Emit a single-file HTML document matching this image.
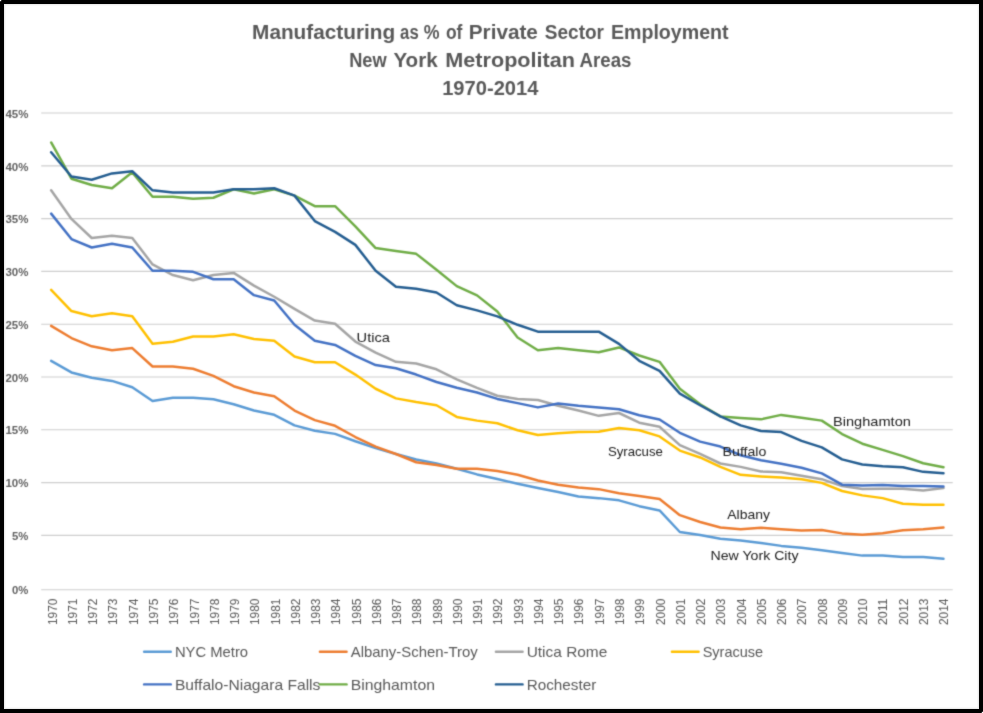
<!DOCTYPE html>
<html lang="en"><head><meta charset="utf-8"><title>Manufacturing as % of Private Sector Employment</title>
<style>
html,body{margin:0;padding:0;background:#000;}
body{width:983px;height:713px;overflow:hidden;}
svg{display:block;font-family:"Liberation Sans",sans-serif;}
.t{font-weight:bold;fill:#595959;font-size:20px;}
.yl{font-weight:bold;fill:#626262;font-size:11px;}
.xl{fill:#595959;font-size:12.4px;}
.lg{fill:#595959;font-size:14.4px;}
.dl{fill:#222;font-size:13.5px;}
.g{stroke:#CECECE;stroke-width:1.1;}
.s{fill:none;stroke-width:2.5;stroke-linejoin:round;stroke-linecap:round;}
</style></head><body>
<svg width="983" height="713" viewBox="0 0 983 713">
<defs><filter id="soft" x="0" y="0" width="983" height="713" filterUnits="userSpaceOnUse" color-interpolation-filters="sRGB"><feConvolveMatrix order="3" kernelMatrix="0.025 0.1 0.025 0.1 0.5 0.1 0.025 0.1 0.025" divisor="1" edgeMode="duplicate" preserveAlpha="true"/></filter></defs>
<g filter="url(#soft)">
<rect x="0" y="0" width="983" height="713" fill="#fff"/>
<text class="t" y="39.4"><tspan x="252.1" textLength="143.0" lengthAdjust="spacingAndGlyphs">Manufacturing</tspan> <tspan x="400.1" textLength="18.6" lengthAdjust="spacingAndGlyphs">as</tspan> <tspan x="423.8" textLength="15.8" lengthAdjust="spacingAndGlyphs">%</tspan> <tspan x="445.9" textLength="16.5" lengthAdjust="spacingAndGlyphs">of</tspan> <tspan x="468.8" textLength="69.1" lengthAdjust="spacingAndGlyphs">Private</tspan> <tspan x="544.8" textLength="59.2" lengthAdjust="spacingAndGlyphs">Sector</tspan> <tspan x="610.9" textLength="117.7" lengthAdjust="spacingAndGlyphs">Employment</tspan></text>
<text class="t" y="67.3"><tspan x="349.2" textLength="37.5" lengthAdjust="spacingAndGlyphs">New</tspan> <tspan x="393.4" textLength="44.3" lengthAdjust="spacingAndGlyphs">York</tspan> <tspan x="445.3" textLength="129.7" lengthAdjust="spacingAndGlyphs">Metropolitan</tspan> <tspan x="579.6" textLength="51.8" lengthAdjust="spacingAndGlyphs">Areas</tspan></text>
<text class="t" y="94.5"><tspan x="442.2" textLength="96.2" lengthAdjust="spacingAndGlyphs">1970-2014</tspan></text>
<line class="g" x1="41.2" x2="952.7" y1="589.70" y2="589.70"/>
<text class="yl" x="12.0" y="594.40" textLength="16.4" lengthAdjust="spacingAndGlyphs">0%</text>
<line class="g" x1="41.2" x2="952.7" y1="535.37" y2="535.37"/>
<text class="yl" x="12.0" y="540.07" textLength="16.4" lengthAdjust="spacingAndGlyphs">5%</text>
<line class="g" x1="41.2" x2="952.7" y1="482.58" y2="482.58"/>
<text class="yl" x="5.4" y="487.28" textLength="23.0" lengthAdjust="spacingAndGlyphs">10%</text>
<line class="g" x1="41.2" x2="952.7" y1="429.79" y2="429.79"/>
<text class="yl" x="5.4" y="434.49" textLength="23.0" lengthAdjust="spacingAndGlyphs">15%</text>
<line class="g" x1="41.2" x2="952.7" y1="377.00" y2="377.00"/>
<text class="yl" x="5.4" y="381.70" textLength="23.0" lengthAdjust="spacingAndGlyphs">20%</text>
<line class="g" x1="41.2" x2="952.7" y1="324.21" y2="324.21"/>
<text class="yl" x="5.4" y="328.91" textLength="23.0" lengthAdjust="spacingAndGlyphs">25%</text>
<line class="g" x1="41.2" x2="952.7" y1="271.42" y2="271.42"/>
<text class="yl" x="5.4" y="276.12" textLength="23.0" lengthAdjust="spacingAndGlyphs">30%</text>
<line class="g" x1="41.2" x2="952.7" y1="218.63" y2="218.63"/>
<text class="yl" x="5.4" y="223.33" textLength="23.0" lengthAdjust="spacingAndGlyphs">35%</text>
<line class="g" x1="41.2" x2="952.7" y1="165.84" y2="165.84"/>
<text class="yl" x="5.4" y="170.54" textLength="23.0" lengthAdjust="spacingAndGlyphs">40%</text>
<line class="g" x1="41.2" x2="952.7" y1="113.05" y2="113.05"/>
<text class="yl" x="5.4" y="117.75" textLength="23.0" lengthAdjust="spacingAndGlyphs">45%</text>
<text class="xl" transform="translate(56.70,625.1) rotate(-90)" textLength="26.6" lengthAdjust="spacingAndGlyphs">1970</text>
<text class="xl" transform="translate(76.96,625.1) rotate(-90)" textLength="26.6" lengthAdjust="spacingAndGlyphs">1971</text>
<text class="xl" transform="translate(97.22,625.1) rotate(-90)" textLength="26.6" lengthAdjust="spacingAndGlyphs">1972</text>
<text class="xl" transform="translate(117.48,625.1) rotate(-90)" textLength="26.6" lengthAdjust="spacingAndGlyphs">1973</text>
<text class="xl" transform="translate(137.74,625.1) rotate(-90)" textLength="26.6" lengthAdjust="spacingAndGlyphs">1974</text>
<text class="xl" transform="translate(158.00,625.1) rotate(-90)" textLength="26.6" lengthAdjust="spacingAndGlyphs">1975</text>
<text class="xl" transform="translate(178.26,625.1) rotate(-90)" textLength="26.6" lengthAdjust="spacingAndGlyphs">1976</text>
<text class="xl" transform="translate(198.52,625.1) rotate(-90)" textLength="26.6" lengthAdjust="spacingAndGlyphs">1977</text>
<text class="xl" transform="translate(218.78,625.1) rotate(-90)" textLength="26.6" lengthAdjust="spacingAndGlyphs">1978</text>
<text class="xl" transform="translate(239.04,625.1) rotate(-90)" textLength="26.6" lengthAdjust="spacingAndGlyphs">1979</text>
<text class="xl" transform="translate(259.30,625.1) rotate(-90)" textLength="26.6" lengthAdjust="spacingAndGlyphs">1980</text>
<text class="xl" transform="translate(279.56,625.1) rotate(-90)" textLength="26.6" lengthAdjust="spacingAndGlyphs">1981</text>
<text class="xl" transform="translate(299.82,625.1) rotate(-90)" textLength="26.6" lengthAdjust="spacingAndGlyphs">1982</text>
<text class="xl" transform="translate(320.08,625.1) rotate(-90)" textLength="26.6" lengthAdjust="spacingAndGlyphs">1983</text>
<text class="xl" transform="translate(340.34,625.1) rotate(-90)" textLength="26.6" lengthAdjust="spacingAndGlyphs">1984</text>
<text class="xl" transform="translate(360.60,625.1) rotate(-90)" textLength="26.6" lengthAdjust="spacingAndGlyphs">1985</text>
<text class="xl" transform="translate(380.86,625.1) rotate(-90)" textLength="26.6" lengthAdjust="spacingAndGlyphs">1986</text>
<text class="xl" transform="translate(401.12,625.1) rotate(-90)" textLength="26.6" lengthAdjust="spacingAndGlyphs">1987</text>
<text class="xl" transform="translate(421.38,625.1) rotate(-90)" textLength="26.6" lengthAdjust="spacingAndGlyphs">1988</text>
<text class="xl" transform="translate(441.64,625.1) rotate(-90)" textLength="26.6" lengthAdjust="spacingAndGlyphs">1989</text>
<text class="xl" transform="translate(461.90,625.1) rotate(-90)" textLength="26.6" lengthAdjust="spacingAndGlyphs">1990</text>
<text class="xl" transform="translate(482.16,625.1) rotate(-90)" textLength="26.6" lengthAdjust="spacingAndGlyphs">1991</text>
<text class="xl" transform="translate(502.42,625.1) rotate(-90)" textLength="26.6" lengthAdjust="spacingAndGlyphs">1992</text>
<text class="xl" transform="translate(522.68,625.1) rotate(-90)" textLength="26.6" lengthAdjust="spacingAndGlyphs">1993</text>
<text class="xl" transform="translate(542.94,625.1) rotate(-90)" textLength="26.6" lengthAdjust="spacingAndGlyphs">1994</text>
<text class="xl" transform="translate(563.20,625.1) rotate(-90)" textLength="26.6" lengthAdjust="spacingAndGlyphs">1995</text>
<text class="xl" transform="translate(583.46,625.1) rotate(-90)" textLength="26.6" lengthAdjust="spacingAndGlyphs">1996</text>
<text class="xl" transform="translate(603.72,625.1) rotate(-90)" textLength="26.6" lengthAdjust="spacingAndGlyphs">1997</text>
<text class="xl" transform="translate(623.98,625.1) rotate(-90)" textLength="26.6" lengthAdjust="spacingAndGlyphs">1998</text>
<text class="xl" transform="translate(644.24,625.1) rotate(-90)" textLength="26.6" lengthAdjust="spacingAndGlyphs">1999</text>
<text class="xl" transform="translate(664.50,625.1) rotate(-90)" textLength="26.6" lengthAdjust="spacingAndGlyphs">2000</text>
<text class="xl" transform="translate(684.76,625.1) rotate(-90)" textLength="26.6" lengthAdjust="spacingAndGlyphs">2001</text>
<text class="xl" transform="translate(705.02,625.1) rotate(-90)" textLength="26.6" lengthAdjust="spacingAndGlyphs">2002</text>
<text class="xl" transform="translate(725.28,625.1) rotate(-90)" textLength="26.6" lengthAdjust="spacingAndGlyphs">2003</text>
<text class="xl" transform="translate(745.54,625.1) rotate(-90)" textLength="26.6" lengthAdjust="spacingAndGlyphs">2004</text>
<text class="xl" transform="translate(765.80,625.1) rotate(-90)" textLength="26.6" lengthAdjust="spacingAndGlyphs">2005</text>
<text class="xl" transform="translate(786.06,625.1) rotate(-90)" textLength="26.6" lengthAdjust="spacingAndGlyphs">2006</text>
<text class="xl" transform="translate(806.32,625.1) rotate(-90)" textLength="26.6" lengthAdjust="spacingAndGlyphs">2007</text>
<text class="xl" transform="translate(826.58,625.1) rotate(-90)" textLength="26.6" lengthAdjust="spacingAndGlyphs">2008</text>
<text class="xl" transform="translate(846.84,625.1) rotate(-90)" textLength="26.6" lengthAdjust="spacingAndGlyphs">2009</text>
<text class="xl" transform="translate(867.10,625.1) rotate(-90)" textLength="26.6" lengthAdjust="spacingAndGlyphs">2010</text>
<text class="xl" transform="translate(887.36,625.1) rotate(-90)" textLength="26.6" lengthAdjust="spacingAndGlyphs">2011</text>
<text class="xl" transform="translate(907.62,625.1) rotate(-90)" textLength="26.6" lengthAdjust="spacingAndGlyphs">2012</text>
<text class="xl" transform="translate(927.88,625.1) rotate(-90)" textLength="26.6" lengthAdjust="spacingAndGlyphs">2013</text>
<text class="xl" transform="translate(948.14,625.1) rotate(-90)" textLength="26.6" lengthAdjust="spacingAndGlyphs">2014</text>
<polyline class="s" stroke="#5B9BD5" points="51.15,360.80 71.43,372.45 91.71,377.74 111.99,380.92 132.27,387.27 152.55,401.03 172.83,397.86 193.11,397.86 213.39,399.34 233.67,404.21 253.95,410.56 274.23,414.80 294.51,425.39 314.79,430.68 335.07,433.86 355.35,441.27 375.63,448.15 395.91,453.97 416.19,459.48 436.47,463.50 456.75,468.80 477.03,474.41 497.31,479.07 517.59,483.73 537.87,488.07 558.15,492.09 578.43,496.54 598.71,498.13 618.99,500.35 639.27,506.17 659.55,510.41 679.83,532.01 700.11,534.97 720.39,538.78 740.67,540.58 760.95,542.91 781.23,545.88 801.51,547.68 821.79,550.22 842.07,552.97 862.35,555.62 882.63,555.62 902.91,557.10 923.19,557.10 943.47,558.79"/>
<polyline class="s" stroke="#ED7D31" points="51.15,325.86 71.43,338.04 91.71,346.29 111.99,350.21 132.27,348.09 152.55,366.52 172.83,366.52 193.11,368.74 213.39,375.94 233.67,386.21 253.95,392.56 274.23,396.27 294.51,410.56 314.79,420.09 335.07,425.81 355.35,437.03 375.63,446.56 395.91,453.97 416.19,462.23 436.47,465.09 456.75,468.80 477.03,468.80 497.31,470.91 517.59,474.73 537.87,480.44 558.15,484.68 578.43,487.54 598.71,489.13 618.99,493.15 639.27,496.01 659.55,498.97 679.83,515.17 700.11,521.95 720.39,527.56 740.67,529.15 760.95,527.77 781.23,529.15 801.51,530.42 821.79,530.00 842.07,533.38 862.35,534.76 882.63,533.17 902.91,530.21 923.19,529.15 943.47,527.56"/>
<polyline class="s" stroke="#A5A5A5" points="51.15,190.33 71.43,218.92 91.71,237.98 111.99,235.86 132.27,237.98 152.55,264.45 172.83,275.04 193.11,280.33 213.39,275.04 233.67,272.92 253.95,285.62 274.23,296.74 294.51,308.92 314.79,320.56 335.07,323.74 355.35,341.53 375.63,352.54 395.91,361.86 416.19,363.45 436.47,369.27 456.75,379.33 477.03,387.90 497.31,395.74 517.59,398.92 537.87,399.97 558.15,405.80 578.43,410.56 598.71,415.86 618.99,413.00 639.27,422.74 659.55,426.76 679.83,445.19 700.11,453.97 720.39,463.50 740.67,466.89 760.95,471.44 781.23,472.29 801.51,475.78 821.79,479.17 842.07,486.06 862.35,488.91 882.63,488.70 902.91,488.70 923.19,490.50 943.47,488.07"/>
<polyline class="s" stroke="#FFC000" points="51.15,289.86 71.43,311.04 91.71,316.33 111.99,313.15 132.27,316.33 152.55,343.86 172.83,341.74 193.11,336.45 213.39,336.45 233.67,334.33 253.95,338.99 274.23,340.68 294.51,356.56 314.79,362.28 335.07,362.28 355.35,374.56 375.63,388.75 395.91,398.39 416.19,402.09 436.47,405.27 456.75,416.92 477.03,420.62 497.31,423.27 517.59,430.26 537.87,434.92 558.15,433.22 578.43,432.06 598.71,431.74 618.99,428.03 639.27,430.26 659.55,436.40 679.83,450.59 700.11,457.47 720.39,466.89 740.67,474.83 760.95,476.42 781.23,477.58 801.51,479.17 821.79,482.88 842.07,491.03 862.35,495.37 882.63,498.13 902.91,503.74 923.19,504.80 943.47,504.80"/>
<polyline class="s" stroke="#4472C4" points="51.15,213.63 71.43,239.04 91.71,247.51 111.99,243.80 132.27,247.51 152.55,270.80 172.83,270.80 193.11,271.86 213.39,279.27 233.67,279.27 253.95,295.15 274.23,300.45 294.51,324.80 314.79,340.68 335.07,344.92 355.35,355.82 375.63,365.03 395.91,368.21 416.19,374.56 436.47,381.98 456.75,387.80 477.03,392.56 497.31,398.92 517.59,403.15 537.87,407.39 558.15,403.57 578.43,405.80 598.71,407.39 618.99,409.19 639.27,415.22 659.55,419.56 679.83,432.80 700.11,441.59 720.39,446.56 740.67,455.24 760.95,460.33 781.23,463.82 801.51,467.74 821.79,473.35 842.07,484.68 862.35,485.42 882.63,484.89 902.91,485.95 923.19,485.95 943.47,486.48"/>
<polyline class="s" stroke="#70AD47" points="51.15,142.47 71.43,178.69 91.71,185.04 111.99,188.21 132.27,172.33 152.55,196.69 172.83,196.69 193.11,198.80 213.39,197.74 233.67,189.27 253.95,193.51 274.23,189.27 294.51,195.63 314.79,206.21 335.07,206.21 355.35,226.33 375.63,248.04 395.91,250.90 416.19,253.86 436.47,269.74 456.75,286.15 477.03,295.37 497.31,311.56 517.59,337.51 537.87,350.21 558.15,348.09 578.43,350.21 598.71,352.33 618.99,347.46 639.27,355.51 659.55,361.86 679.83,388.86 700.11,404.21 720.39,416.39 740.67,417.97 760.95,419.35 781.23,414.90 801.51,417.76 821.79,420.62 842.07,434.07 862.35,443.70 882.63,449.84 902.91,456.09 923.19,463.29 943.47,467.31"/>
<polyline class="s" stroke="#255E91" points="51.15,152.22 71.43,176.57 91.71,179.74 111.99,173.39 132.27,171.27 152.55,190.33 172.83,192.45 193.11,192.45 213.39,192.45 233.67,189.27 253.95,189.27 274.23,188.21 294.51,195.63 314.79,221.04 335.07,231.84 355.35,244.86 375.63,270.80 395.91,286.68 416.19,288.80 436.47,292.51 456.75,305.21 477.03,310.40 497.31,316.33 517.59,324.80 537.87,331.68 558.15,331.68 578.43,331.68 598.71,331.68 618.99,343.86 639.27,360.80 659.55,370.86 679.83,393.62 700.11,405.27 720.39,416.39 740.67,425.39 760.95,431.00 781.23,432.06 801.51,440.84 821.79,447.41 842.07,459.37 862.35,464.46 882.63,466.26 902.91,467.31 923.19,471.87 943.47,473.35"/>
<text class="dl" x="356.6" y="341.9" text-anchor="start" textLength="33.3" lengthAdjust="spacingAndGlyphs">Utica</text>
<text class="dl" x="607.9" y="456.1" text-anchor="start" textLength="55.0" lengthAdjust="spacingAndGlyphs">Syracuse</text>
<text class="dl" x="722.6" y="456.0" text-anchor="start" textLength="43.8" lengthAdjust="spacingAndGlyphs">Buffalo</text>
<text class="dl" x="833.0" y="426.3" text-anchor="start" textLength="77.9" lengthAdjust="spacingAndGlyphs">Binghamton</text>
<text class="dl" x="727.3" y="519.0" text-anchor="start" textLength="42.7" lengthAdjust="spacingAndGlyphs">Albany</text>
<text class="dl" x="710.5" y="560.1" text-anchor="start" textLength="88.0" lengthAdjust="spacingAndGlyphs">New York City</text>
<line x1="144.10000000000002" x2="170.8" y1="651.8" y2="651.8" stroke="#5B9BD5" stroke-width="2.4" stroke-linecap="round"/>
<text class="lg" x="174.9" y="657.1999999999999" text-anchor="start" textLength="73.2" lengthAdjust="spacingAndGlyphs">NYC Metro</text>
<line x1="319.90000000000003" x2="346.6" y1="651.8" y2="651.8" stroke="#ED7D31" stroke-width="2.4" stroke-linecap="round"/>
<text class="lg" x="350.70000000000005" y="657.1999999999999" text-anchor="start" textLength="127.1" lengthAdjust="spacingAndGlyphs">Albany-Schen-Troy</text>
<line x1="495.90000000000003" x2="522.6" y1="651.8" y2="651.8" stroke="#A5A5A5" stroke-width="2.4" stroke-linecap="round"/>
<text class="lg" x="526.7" y="657.1999999999999" text-anchor="start" textLength="80.6" lengthAdjust="spacingAndGlyphs">Utica Rome</text>
<line x1="671.9" x2="698.6" y1="651.8" y2="651.8" stroke="#FFC000" stroke-width="2.4" stroke-linecap="round"/>
<text class="lg" x="702.7" y="657.1999999999999" text-anchor="start" textLength="60.4" lengthAdjust="spacingAndGlyphs">Syracuse</text>
<line x1="144.10000000000002" x2="170.8" y1="684.4" y2="684.4" stroke="#4472C4" stroke-width="2.4" stroke-linecap="round"/>
<text class="lg" x="174.9" y="689.8" text-anchor="start" textLength="145.5" lengthAdjust="spacingAndGlyphs">Buffalo-Niagara Falls</text>
<line x1="319.90000000000003" x2="346.6" y1="684.4" y2="684.4" stroke="#70AD47" stroke-width="2.4" stroke-linecap="round"/>
<text class="lg" x="350.70000000000005" y="689.8" text-anchor="start" textLength="84.3" lengthAdjust="spacingAndGlyphs">Binghamton</text>
<line x1="495.90000000000003" x2="522.6" y1="684.4" y2="684.4" stroke="#255E91" stroke-width="2.4" stroke-linecap="round"/>
<text class="lg" x="526.7" y="689.8" text-anchor="start" textLength="69.6" lengthAdjust="spacingAndGlyphs">Rochester</text>
</g>
<rect x="4.6" y="4.6" width="973.8" height="703.8" fill="none" stroke="#ebebeb" stroke-width="1.4"/>
<path d="M0 0H983V713H0Z M4 4V709H979V4Z" fill="#000" fill-rule="evenodd"/>
<rect x="0" y="0" width="1.2" height="1.2" fill="#fff"/>
<rect x="981.8" y="711.8" width="1.2" height="1.2" fill="#fff"/>
</svg>
</body></html>
